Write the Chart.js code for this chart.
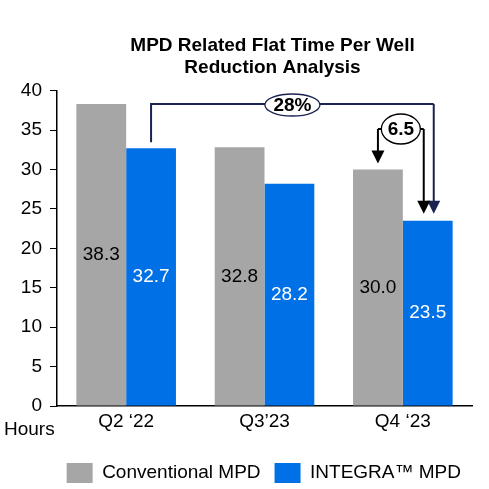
<!DOCTYPE html>
<html>
<head>
<meta charset="utf-8">
<script src="https://cdn.jsdelivr.net/npm/chart.js@4"></script>
<style>
  html, body { margin: 0; padding: 0; background: #fff; }
  canvas { display: block; }
</style>
</head>
<body>
<canvas id="grafica" width="489" height="489"></canvas>
<script>
// datos de la grafica
const categorias = ['Q2 \u201822', 'Q3\u201923', 'Q4 \u201823'];
const convencional = [38.3, 32.8, 30.0];
const integra = [32.7, 28.2, 23.5];
const nombresSeries = ['Conventional MPD', 'INTEGRA\u2122 MPD'];
const etiquetaReduccion = '28%';
const etiquetaDiferencia = '6.5';

const gris = '#a6a6a6';
const azul = '#0070e6';
const marino = '#1b2350';
const fuente = "'Liberation Sans', Arial, sans-serif";

// dibuja una flecha hacia abajo
function flechaAbajo(ctx, x, yIni, yFin, color) {
  ctx.strokeStyle = color;
  ctx.fillStyle = color;
  ctx.beginPath();
  ctx.moveTo(x, yIni);
  ctx.lineTo(x, yFin - 10);
  ctx.stroke();
  ctx.beginPath();
  ctx.moveTo(x - 6.5, yFin - 13);
  ctx.lineTo(x + 6.5, yFin - 13);
  ctx.lineTo(x, yFin);
  ctx.closePath();
  ctx.fill();
}

function elipse(ctx, cx, cy, w, h, texto, color) {
  ctx.beginPath();
  ctx.ellipse(cx, cy, w / 2, h / 2, 0, 0, Math.PI * 2);
  ctx.fillStyle = '#fff';
  ctx.fill();
  ctx.strokeStyle = color;
  ctx.lineWidth = 1.3;
  ctx.stroke();
  ctx.fillStyle = '#000';
  ctx.font = 'bold 19px ' + fuente;
  ctx.textAlign = 'center';
  ctx.textBaseline = 'middle';
  ctx.fillText(texto, cx, cy + 1);
}

const anotaciones = {
  id: 'anotaciones',
  // el titulo va centrado sobre las barras, no sobre todo el lienzo
  afterLayout(chart) {
    const t = chart.titleBlock;
    const mover = (chart.chartArea.left + chart.chartArea.right) / 2 + 8 - (t.left + t.right) / 2;
    t.left += mover;
    t.right += mover;
    chart.legend.left += 3;
    chart.legend.right += 3;
  },
  afterDatasetsDraw(chart) {
    const ctx = chart.ctx;
    const y = chart.scales.y;
    const gr = chart.getDatasetMeta(0).data;
    const az = chart.getDatasetMeta(1).data;

    // valores dentro de las barras
    ctx.save();
    ctx.font = '19px ' + fuente;
    ctx.textAlign = 'center';
    ctx.textBaseline = 'middle';
    for (let i = 0; i < categorias.length; i++) {
      ctx.fillStyle = '#000';
      ctx.fillText(convencional[i].toFixed(1), gr[i].x, (gr[i].y + gr[i].base) / 2);
      ctx.fillStyle = '#fff';
      ctx.fillText(integra[i].toFixed(1), az[i].x, (az[i].y + az[i].base) / 2);
    }

    // corchete 28%
    const n = categorias.length - 1;
    const yTope = y.getPixelForValue(Math.max(...convencional));
    const xIni = az[0].x;
    const xFin = az[n].x + 6;
    ctx.lineWidth = 2;
    ctx.strokeStyle = marino;
    ctx.beginPath();
    ctx.moveTo(xIni, az[0].y - 6);
    ctx.lineTo(xIni, yTope);
    ctx.lineTo(xFin, yTope);
    ctx.stroke();
    flechaAbajo(ctx, xFin, yTope, az[n].y - 7, marino);
    elipse(ctx, (xIni + xFin) / 2, yTope + 1, 55, 22, etiquetaReduccion, marino);

    // diferencia 6.5
    const cx = (gr[n].x + az[n].x) / 2 - 2;
    const cy = yTope + 25;
    const xIzq = gr[n].x;
    const xDer = az[n].x - 4;
    ctx.lineWidth = 2;
    ctx.strokeStyle = '#000';
    ctx.beginPath();
    ctx.moveTo(cx - 18, cy);
    ctx.lineTo(xIzq, cy);
    ctx.stroke();
    flechaAbajo(ctx, xIzq, cy, gr[n].y - 6, '#000');
    ctx.beginPath();
    ctx.moveTo(cx + 18, cy);
    ctx.lineTo(xDer, cy);
    ctx.stroke();
    flechaAbajo(ctx, xDer, cy, az[n].y - 7, '#000');
    elipse(ctx, cx, cy, 39, 30, etiquetaDiferencia, '#000');

    // texto Hours
    ctx.fillStyle = '#000';
    ctx.font = '19px ' + fuente;
    ctx.textAlign = 'left';
    ctx.textBaseline = 'middle';
    ctx.fillText('Hours', 4, y.bottom + 24);
    ctx.restore();
  }
};

Chart.defaults.font.family = fuente;
Chart.defaults.color = '#000';

new Chart(document.getElementById('grafica'), {
  type: 'bar',
  data: {
    labels: categorias,
    datasets: [
      { label: nombresSeries[0], data: convencional, backgroundColor: gris },
      { label: nombresSeries[1], data: integra, backgroundColor: azul }
    ]
  },
  options: {
    responsive: false,
    animation: false,
    devicePixelRatio: 1,
    layout: { padding: { left: 0, right: 17, top: 0, bottom: -4 } },
    datasets: { bar: { barPercentage: 1, categoryPercentage: 0.72 } },
    scales: {
      x: {
        afterFit: s => { s.height = 43; },
        grid: { display: false },
        border: { display: true, color: '#000', width: 1.5 },
        ticks: { font: { size: 19 }, padding: -4, color: '#000' }
      },
      y: {
        min: 0,
        max: 40,
        afterFit: s => { s.width = 57; },
        grid: { drawOnChartArea: false, drawTicks: true, tickLength: 7, color: '#000' },
        border: { display: true, color: '#000', width: 1.5 },
        ticks: { stepSize: 5, font: { size: 19 }, padding: 8, color: '#000' }
      }
    },
    plugins: {
      title: {
        display: true,
        text: ['MPD Related Flat Time Per Well', 'Reduction Analysis'],
        font: { size: 19, weight: 'bold' },
        lineHeight: 1.0,
        padding: { top: 34, bottom: 11 },
        color: '#000'
      },
      legend: {
        position: 'bottom',
        align: 'end',
        labels: {
          font: { size: 19 },
          boxWidth: 26,
          boxHeight: 20,
          padding: 14,
          color: '#000'
        }
      },
      tooltip: { enabled: false }
    }
  },
  plugins: [anotaciones]
});
</script>
</body>
</html>
